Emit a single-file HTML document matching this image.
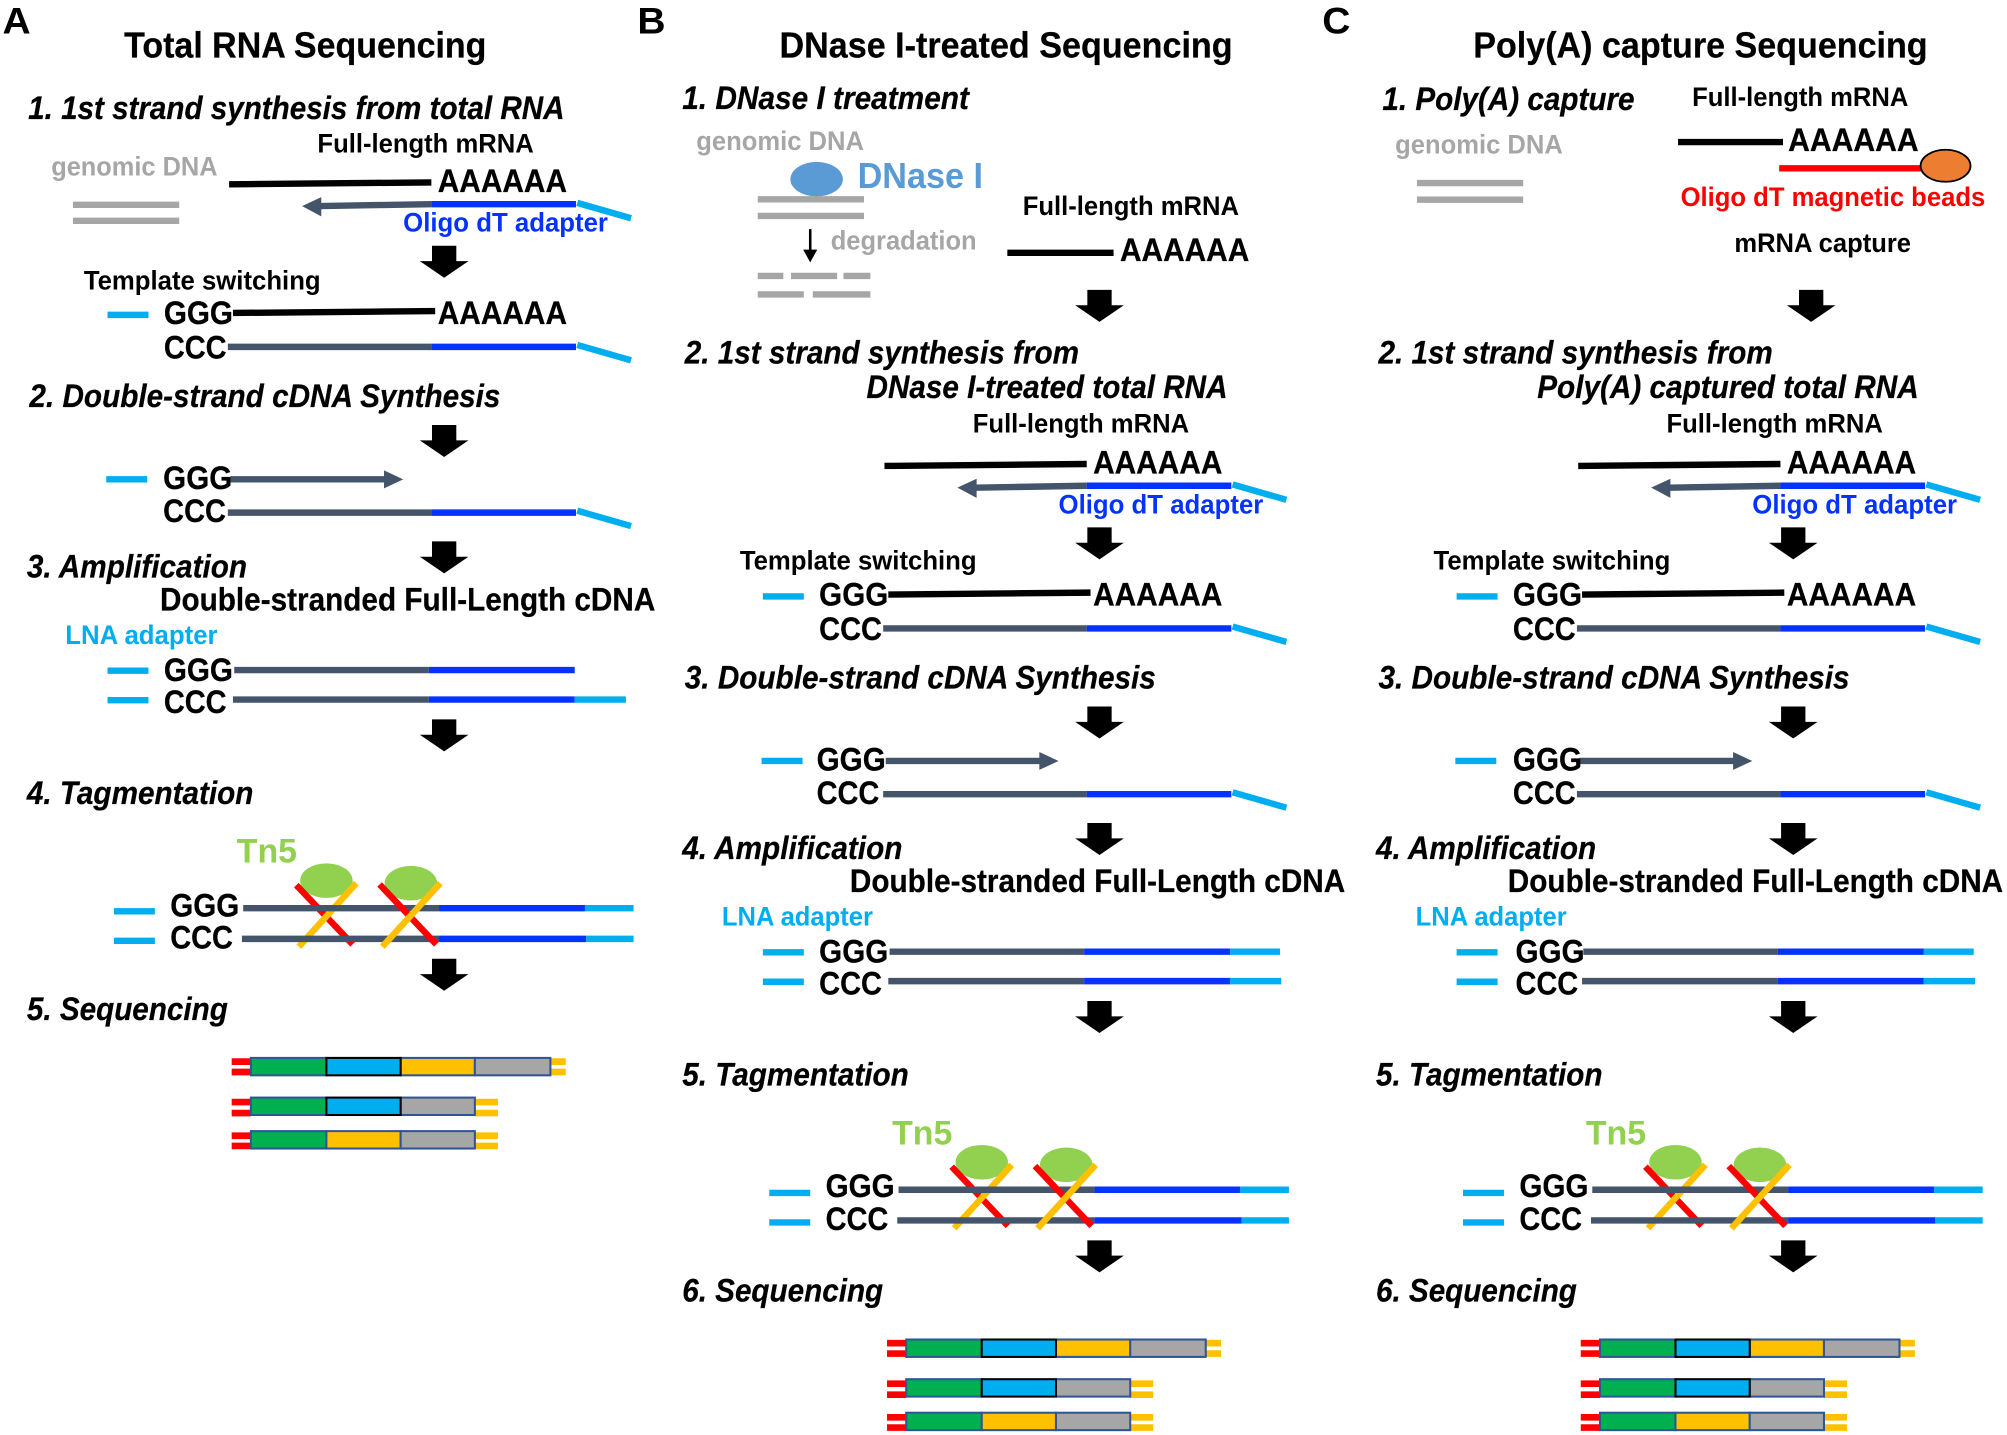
<!DOCTYPE html>
<html>
<head>
<meta charset="utf-8">
<style>
html,body{margin:0;padding:0;background:#fff;}
svg{display:block;filter:blur(0.35px);}
text{font-family:"Liberation Sans",Arial,sans-serif;font-weight:700;fill:#000;}
.h{font-style:italic;font-size:25px;stroke:#000;stroke-width:.2px;}
.t{font-size:28px;stroke:#000;stroke-width:.2px;}
.l{font-size:21px;}
.s{font-size:25px;stroke:#000;stroke-width:.2px;}
.g{fill:#a6a6a6;}
.b{fill:#0433ff;}
.c{fill:#00aeef;}
.n{fill:#92d050;font-size:27px;}
</style>
</head>
<body>
<svg xmlns="http://www.w3.org/2000/svg" width="2007" height="1435" viewBox="0 0 1568 1121.1" preserveAspectRatio="none">
<defs>
<polygon id="ar" points="-9.5,0 9.5,0 9.5,12 19,12 0,25 -19,12 -9.5,12"/>
<g id="seq">
  <g stroke-width="5.2" fill="none">
    <path d="M181 829.4H196M181 837.5H196M181 861H196M181 869.6H196M181 887.3H196M181 895.3H196" stroke="#ff0000"/>
    <path d="M430 829.4H442M430 837.5H442M371 861H389M371 869.6H389M371 887.3H389M371 895.3H389" stroke="#ffc000"/>
  </g>
  <g stroke="#2f5597" stroke-width="1.6">
    <rect x="196" y="826.5" width="59" height="13.6" fill="#00b050"/>
    <rect x="313" y="826.5" width="58" height="13.6" fill="#ffc000"/>
    <rect x="371" y="826.5" width="59" height="13.6" fill="#a6a6a6"/>
    <rect x="196" y="857.5" width="59" height="13.6" fill="#00b050"/>
    <rect x="313" y="857.5" width="58" height="13.6" fill="#a6a6a6"/>
    <rect x="196" y="883.7" width="59" height="13.6" fill="#00b050"/>
    <rect x="255" y="883.7" width="58" height="13.6" fill="#ffc000"/>
    <rect x="313" y="883.7" width="58" height="13.6" fill="#a6a6a6"/>
  </g>
  <g stroke="#000" stroke-width="1.6" fill="#00aeef">
    <rect x="255" y="826.5" width="58" height="13.6"/>
    <rect x="255" y="857.5" width="58" height="13.6"/>
  </g>
</g>
<g id="blk">
  <g fill="none" stroke-width="5">
    <path d="M179 144L337 142.5" stroke="#000"/>
    <path d="M337 159.5L250 161" stroke="#44546a"/>
    <path d="M337 159.5H450" stroke="#0433ff"/>
    <path d="M451 158.5L493 170.5" stroke="#00aeef"/>
    <path d="M84 246H116" stroke="#00aeef"/>
    <path d="M182 244.5L340 243" stroke="#000"/>
    <path d="M178 271H337" stroke="#44546a"/>
    <path d="M337 271H450" stroke="#0433ff"/>
    <path d="M451 269.5L493 281.5" stroke="#00aeef"/>
    <path d="M83 374.5H115" stroke="#00aeef"/>
    <path d="M180 374.5H302" stroke="#44546a"/>
    <path d="M178 400.5H337" stroke="#44546a"/>
    <path d="M337 400.5H450" stroke="#0433ff"/>
    <path d="M451 399L493 411" stroke="#00aeef"/>
    <path d="M84 524H116" stroke="#00aeef"/>
    <path d="M183 523.5H335" stroke="#44546a"/>
    <path d="M335 523.5H449" stroke="#0433ff"/>
    <path d="M84 547H116" stroke="#00aeef"/>
    <path d="M182 546.5H335" stroke="#44546a"/>
    <path d="M335 546.5H449" stroke="#0433ff"/>
    <path d="M449 546.5H489" stroke="#00aeef"/>
  </g>
  <polygon points="236,161 251,154 251,169" fill="#44546a"/>
  <polygon points="315,374.5 300,367.5 300,381.5" fill="#44546a"/>
  <use href="#ar" x="347" y="192"/>
  <use href="#ar" x="347" y="332"/>
  <use href="#ar" x="347" y="423"/>
  <use href="#ar" x="347" y="562"/>
  <use href="#ar" x="347" y="749"/>
  <ellipse cx="255" cy="688" rx="20.5" ry="13.5" fill="#92d050"/>
  <ellipse cx="321" cy="690" rx="20.5" ry="13.5" fill="#92d050"/>
  <g fill="none" stroke-width="5">
    <path d="M231.5 691.5L275.5 737.8" stroke="#ff0000"/>
    <path d="M278.4 690L233.5 739.6" stroke="#ffc000"/>
    <path d="M89 712H121M89 735H121" stroke="#00aeef"/>
    <path d="M190 709.5H343M189 733.5H343" stroke="#44546a"/>
    <path d="M343 709.5H457M343 733.5H458" stroke="#0433ff"/>
    <path d="M457 709.5H495M458 733.5H495" stroke="#00aeef"/>
    <path d="M296.6 691L340.9 737.8" stroke="#ff0000"/>
    <path d="M344 690L298.7 739.6" stroke="#ffc000"/>
  </g>
  <use href="#seq"/>
</g>
</defs>

<rect width="1568" height="1122" fill="#fff"/>

<!-- Panel A -->
<text x="2" y="26" font-size="29" textLength="22" lengthAdjust="spacingAndGlyphs">A</text>
<text class="t" x="97" y="45" textLength="283" lengthAdjust="spacingAndGlyphs">Total RNA Sequencing</text>
<text class="h" x="22" y="93" textLength="419" lengthAdjust="spacingAndGlyphs">1. 1st strand synthesis from total RNA</text>
<text class="l g" x="40" y="137" textLength="130" lengthAdjust="spacingAndGlyphs">genomic DNA</text>
<path d="M57 160H140M57 172.5H140" stroke="#a6a6a6" stroke-width="5" fill="none"/>
<use href="#blk"/>
<g>
<text class="l" x="248" y="119" textLength="169" lengthAdjust="spacingAndGlyphs">Full-length mRNA</text>
<text class="s" x="342" y="150" textLength="101" lengthAdjust="spacingAndGlyphs">AAAAAA</text>
<text class="l b" x="315" y="181" textLength="160" lengthAdjust="spacingAndGlyphs">Oligo dT adapter</text>
<text class="l" x="65.5" y="226" textLength="185" lengthAdjust="spacingAndGlyphs">Template switching</text>
<text class="s" x="128" y="253" textLength="54" lengthAdjust="spacingAndGlyphs">GGG</text>
<text class="s" x="342" y="253" textLength="101" lengthAdjust="spacingAndGlyphs">AAAAAA</text>
<text class="s" x="128" y="280" textLength="49" lengthAdjust="spacingAndGlyphs">CCC</text>
<text class="h" x="23" y="318" textLength="368" lengthAdjust="spacingAndGlyphs">2. Double-strand cDNA Synthesis</text>
<text class="s" x="127.5" y="382" textLength="54" lengthAdjust="spacingAndGlyphs">GGG</text>
<text class="s" x="127.5" y="408" textLength="49" lengthAdjust="spacingAndGlyphs">CCC</text>
<text class="h" x="21" y="451" textLength="172" lengthAdjust="spacingAndGlyphs">3. Amplification</text>
<text class="s" x="125" y="477" textLength="387" lengthAdjust="spacingAndGlyphs">Double-stranded Full-Length cDNA</text>
<text class="l c" x="51" y="503" textLength="119" lengthAdjust="spacingAndGlyphs">LNA adapter</text>
<text class="s" x="128" y="532" textLength="54" lengthAdjust="spacingAndGlyphs">GGG</text>
<text class="s" x="128" y="557" textLength="49" lengthAdjust="spacingAndGlyphs">CCC</text>
<text class="h" x="21" y="628" textLength="177" lengthAdjust="spacingAndGlyphs">4. Tagmentation</text>
<text class="n" x="185" y="674" textLength="47" lengthAdjust="spacingAndGlyphs">Tn5</text>
<text class="s" x="133" y="716" textLength="54" lengthAdjust="spacingAndGlyphs">GGG</text>
<text class="s" x="133" y="741" textLength="49" lengthAdjust="spacingAndGlyphs">CCC</text>
<text class="h" x="21" y="797" textLength="157" lengthAdjust="spacingAndGlyphs">5. Sequencing</text>
</g>

<!-- Panel B -->
<text x="498" y="26" font-size="29" textLength="22" lengthAdjust="spacingAndGlyphs">B</text>
<text class="t" x="609" y="45" textLength="354" lengthAdjust="spacingAndGlyphs">DNase I-treated Sequencing</text>
<text class="h" x="533" y="85" textLength="224" lengthAdjust="spacingAndGlyphs">1. DNase I treatment</text>
<text class="l g" x="544" y="117" textLength="131" lengthAdjust="spacingAndGlyphs">genomic DNA</text>
<ellipse cx="638" cy="140" rx="20.5" ry="13.5" fill="#5b9bd5"/>
<text x="670" y="147" font-size="28" style="fill:#5b9bd5" textLength="98" lengthAdjust="spacingAndGlyphs">DNase I</text>
<path d="M592 155.7H675M592 168.7H675M592 215.6H612M618 215.6H654M659 215.6H680M592 230H628M635 230H680" stroke="#a6a6a6" stroke-width="5" fill="none"/>
<path d="M633 179V196" stroke="#000" stroke-width="2"/>
<polygon points="627.5,195 638.5,195 633,205" fill="#000"/>
<text class="l g" x="649" y="195" textLength="114" lengthAdjust="spacingAndGlyphs">degradation</text>
<text class="l" x="799" y="168" textLength="169" lengthAdjust="spacingAndGlyphs">Full-length mRNA</text>
<path d="M787 197.5H870" stroke="#000" stroke-width="5"/>
<text class="s" x="875" y="204" textLength="101" lengthAdjust="spacingAndGlyphs">AAAAAA</text>
<use href="#ar" x="859" y="226.5"/>
<text class="h" x="535" y="284" textLength="308" lengthAdjust="spacingAndGlyphs">2. 1st strand synthesis from</text>
<text class="h" x="677" y="311" textLength="282" lengthAdjust="spacingAndGlyphs">DNase I-treated total RNA</text>
<g transform="translate(512,220)">
<path d="M449 523.5H488" stroke="#00aeef" stroke-width="5" fill="none"/>
<use href="#blk"/>
<text class="l" x="248" y="118" textLength="169" lengthAdjust="spacingAndGlyphs">Full-length mRNA</text>
<text class="s" x="342" y="150" textLength="101" lengthAdjust="spacingAndGlyphs">AAAAAA</text>
<text class="l b" x="315" y="181" textLength="160" lengthAdjust="spacingAndGlyphs">Oligo dT adapter</text>
<text class="l" x="66" y="225" textLength="185" lengthAdjust="spacingAndGlyphs">Template switching</text>
<text class="s" x="128" y="253" textLength="54" lengthAdjust="spacingAndGlyphs">GGG</text>
<text class="s" x="342" y="253" textLength="101" lengthAdjust="spacingAndGlyphs">AAAAAA</text>
<text class="s" x="128" y="280" textLength="49" lengthAdjust="spacingAndGlyphs">CCC</text>
<text class="h" x="23" y="318" textLength="368" lengthAdjust="spacingAndGlyphs">3. Double-strand cDNA Synthesis</text>
<text class="s" x="126" y="382" textLength="54" lengthAdjust="spacingAndGlyphs">GGG</text>
<text class="s" x="126" y="408" textLength="49" lengthAdjust="spacingAndGlyphs">CCC</text>
<text class="h" x="21" y="451" textLength="172" lengthAdjust="spacingAndGlyphs">4. Amplification</text>
<text class="s" x="152" y="477" textLength="387" lengthAdjust="spacingAndGlyphs">Double-stranded Full-Length cDNA</text>
<text class="l c" x="52" y="503" textLength="118" lengthAdjust="spacingAndGlyphs">LNA adapter</text>
<text class="s" x="128" y="532" textLength="54" lengthAdjust="spacingAndGlyphs">GGG</text>
<text class="s" x="128" y="557" textLength="49" lengthAdjust="spacingAndGlyphs">CCC</text>
<text class="h" x="21" y="628" textLength="177" lengthAdjust="spacingAndGlyphs">5. Tagmentation</text>
<text class="n" x="185" y="674" textLength="47" lengthAdjust="spacingAndGlyphs">Tn5</text>
<text class="s" x="133" y="715" textLength="54" lengthAdjust="spacingAndGlyphs">GGG</text>
<text class="s" x="133" y="741" textLength="49" lengthAdjust="spacingAndGlyphs">CCC</text>
<text class="h" x="21" y="797" textLength="157" lengthAdjust="spacingAndGlyphs">6. Sequencing</text>
</g>

<!-- Panel C -->
<text x="1033" y="26" font-size="29" textLength="22" lengthAdjust="spacingAndGlyphs">C</text>
<text class="t" x="1151" y="45" textLength="355" lengthAdjust="spacingAndGlyphs">Poly(A) capture Sequencing</text>
<text class="h" x="1080" y="86" textLength="197" lengthAdjust="spacingAndGlyphs">1. Poly(A) capture</text>
<text class="l g" x="1090" y="120" textLength="131" lengthAdjust="spacingAndGlyphs">genomic DNA</text>
<path d="M1107 143H1190M1107 156H1190" stroke="#a6a6a6" stroke-width="5" fill="none"/>
<text class="l" x="1322" y="83" textLength="169" lengthAdjust="spacingAndGlyphs">Full-length mRNA</text>
<path d="M1311 111H1393" stroke="#000" stroke-width="5"/>
<text class="s" x="1397" y="118" textLength="102" lengthAdjust="spacingAndGlyphs">AAAAAA</text>
<path d="M1390 131.5H1505" stroke="#ff0000" stroke-width="5"/>
<ellipse cx="1520" cy="129.5" rx="19.5" ry="12.5" fill="#ed7d31" stroke="#000" stroke-width="1.4"/>
<text class="l" style="fill:#ff0000" x="1313" y="161" textLength="238" lengthAdjust="spacingAndGlyphs">Oligo dT magnetic beads</text>
<text class="l" x="1355" y="197" textLength="138" lengthAdjust="spacingAndGlyphs">mRNA capture</text>
<use href="#ar" x="1415" y="226.5"/>
<text class="h" x="1077" y="284" textLength="308" lengthAdjust="spacingAndGlyphs">2. 1st strand synthesis from</text>
<text class="h" x="1201" y="311" textLength="298" lengthAdjust="spacingAndGlyphs">Poly(A) captured total RNA</text>
<g transform="translate(1054,220)">
<path d="M449 523.5H488" stroke="#00aeef" stroke-width="5" fill="none"/>
<use href="#blk"/>
<text class="l" x="248" y="118" textLength="169" lengthAdjust="spacingAndGlyphs">Full-length mRNA</text>
<text class="s" x="342" y="150" textLength="101" lengthAdjust="spacingAndGlyphs">AAAAAA</text>
<text class="l b" x="315" y="181" textLength="160" lengthAdjust="spacingAndGlyphs">Oligo dT adapter</text>
<text class="l" x="66" y="225" textLength="185" lengthAdjust="spacingAndGlyphs">Template switching</text>
<text class="s" x="128" y="253" textLength="54" lengthAdjust="spacingAndGlyphs">GGG</text>
<text class="s" x="342" y="253" textLength="101" lengthAdjust="spacingAndGlyphs">AAAAAA</text>
<text class="s" x="128" y="280" textLength="49" lengthAdjust="spacingAndGlyphs">CCC</text>
<text class="h" x="23" y="318" textLength="368" lengthAdjust="spacingAndGlyphs">3. Double-strand cDNA Synthesis</text>
<text class="s" x="128" y="382" textLength="54" lengthAdjust="spacingAndGlyphs">GGG</text>
<text class="s" x="128" y="408" textLength="49" lengthAdjust="spacingAndGlyphs">CCC</text>
<text class="h" x="21" y="451" textLength="172" lengthAdjust="spacingAndGlyphs">4. Amplification</text>
<text class="s" x="124" y="477" textLength="387" lengthAdjust="spacingAndGlyphs">Double-stranded Full-Length cDNA</text>
<text class="l c" x="52" y="503" textLength="118" lengthAdjust="spacingAndGlyphs">LNA adapter</text>
<text class="s" x="130" y="532" textLength="54" lengthAdjust="spacingAndGlyphs">GGG</text>
<text class="s" x="130" y="557" textLength="49" lengthAdjust="spacingAndGlyphs">CCC</text>
<text class="h" x="21" y="628" textLength="177" lengthAdjust="spacingAndGlyphs">5. Tagmentation</text>
<text class="n" x="185" y="674" textLength="47" lengthAdjust="spacingAndGlyphs">Tn5</text>
<text class="s" x="133" y="715" textLength="54" lengthAdjust="spacingAndGlyphs">GGG</text>
<text class="s" x="133" y="741" textLength="49" lengthAdjust="spacingAndGlyphs">CCC</text>
<text class="h" x="21" y="797" textLength="157" lengthAdjust="spacingAndGlyphs">6. Sequencing</text>
</g>
</svg>
</body>
</html>
